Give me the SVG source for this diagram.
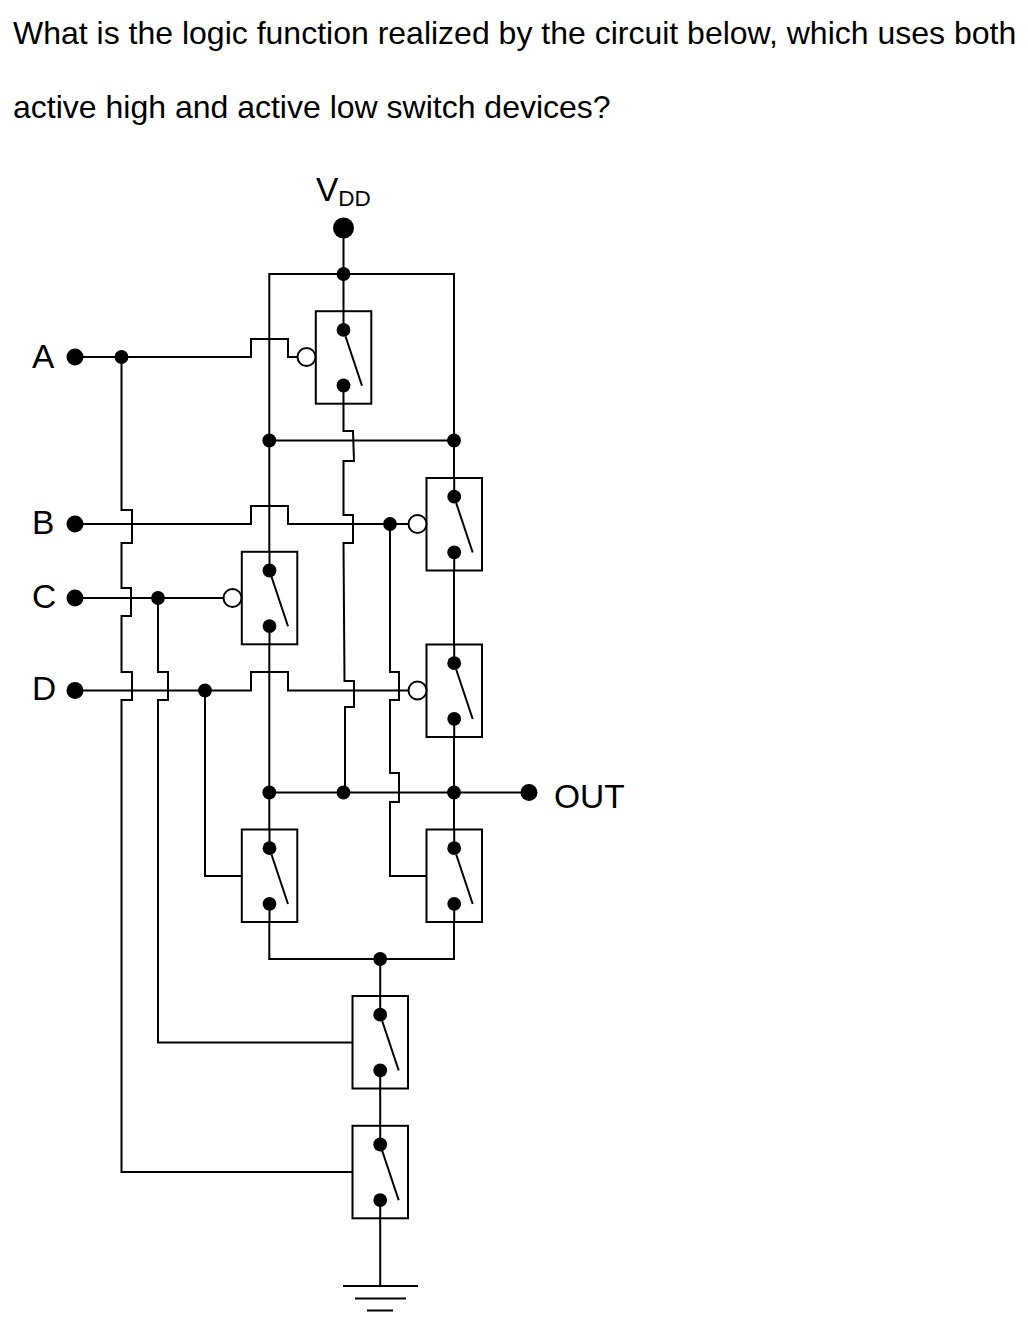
<svg xmlns="http://www.w3.org/2000/svg" width="1028" height="1341" viewBox="0 0 1028 1341">
<style>
text{font-family:"Liberation Sans",Arial,sans-serif;fill:#000}
.h{font-size:32px}
.l{font-size:33.500px}
.w{fill:none;stroke:#000;stroke-width:2;stroke-linejoin:miter}
.b{fill:none;stroke:#000;stroke-width:2}
.d{fill:#000}
.o{fill:#fff;stroke:#000;stroke-width:2}
</style>
<defs>
<g id="sw">
<rect class="b" x="-27.7" y="0" width="55.5" height="92.5"/>
<path class="b" d="M0 0V18.700M0 74.300V92.500"/>
<circle class="d" cx="0" cy="18.700" r="6.900"/>
<circle class="d" cx="0" cy="74.300" r="6.900"/>
<path class="b" d="M2 25L18.500 74.500"/>
</g>
</defs>
<rect width="1028" height="1341" fill="#fff"/>
<text class="h" x="13" y="44">What is the logic function realized by the circuit below, which uses both</text>
<text class="h" x="13" y="118">active high and active low switch devices?</text>
<text class="l" x="316" y="201">V<tspan font-size="22.500" dy="5">DD</tspan></text>
<text class="l" x="32" y="368">A</text>
<text class="l" x="32" y="534">B</text>
<text class="l" x="32" y="608">C</text>
<text class="l" x="32" y="700">D</text>
<text class="l" x="554" y="808">OUT</text>
<g id="connectors">
<path class="w" d="M343.500 228V311M343.500 404V431H353L354 461H343.500V515H353V543H343.500L344.500 681H354V707H345V792"/>
<path class="w" d="M269.300 552V274H454V478"/>
<path class="w" d="M269.300 644V830M269.300 922V959H454V922M454 570V645M454 737V830"/>
<path class="w" d="M269.300 440.500H454"/>
<path class="w" d="M269.300 792.500H529"/>
<path class="w" d="M75 357H251V339H288V357H297"/>
<path class="w" d="M75 524H251V506H288V524H408"/>
<path class="w" d="M75 598H223"/>
<path class="w" d="M75 690.500H251V672H288V690.500H408"/>
<path class="w" d="M121.500 357V510H132V543H121.500V588H131V616H121.500V672H132V700H121.500V1172H352.500"/>
<path class="w" d="M158 598V672H168V700H158V1042.500H352.500"/>
<path class="w" d="M205 690.500V876H242"/>
<path class="w" d="M390 524V672H399V700H390V773H399V802H390V876H426.500"/>
<path class="w" d="M380.200 959V996M380.200 1088.500V1126M380.200 1218.500V1286"/>
<path class="w" d="M343 1286H418M355 1298.500H406M367 1310.500H393"/>
</g>
<g id="junctions">
<circle class="d" cx="343.500" cy="228" r="10.500"/>
<circle class="d" cx="343.500" cy="274" r="6.900"/>
<circle class="d" cx="75" cy="357" r="8.500"/>
<circle class="d" cx="75" cy="524" r="8.500"/>
<circle class="d" cx="75" cy="598" r="8.500"/>
<circle class="d" cx="75" cy="690.500" r="8.500"/>
<circle class="d" cx="121.500" cy="357" r="6.900"/>
<circle class="d" cx="158" cy="598" r="6.900"/>
<circle class="d" cx="205" cy="690.500" r="6.900"/>
<circle class="d" cx="390" cy="524" r="6.900"/>
<circle class="d" cx="269.300" cy="440.500" r="6.900"/>
<circle class="d" cx="454" cy="440.500" r="6.900"/>
<circle class="d" cx="269.300" cy="792.500" r="6.900"/>
<circle class="d" cx="343.500" cy="792.500" r="6.900"/>
<circle class="d" cx="454" cy="792.500" r="6.900"/>
<circle class="d" cx="529" cy="792.500" r="8.500"/>
<circle class="d" cx="380.200" cy="959" r="6.900"/>
</g>
<g id="sw-a"><use href="#sw" x="343.500" y="311.200"/><circle class="o" cx="306.500" cy="357" r="9"/></g>
<g id="sw-b"><use href="#sw" x="454.200" y="478"/><circle class="o" cx="417.500" cy="524" r="9"/></g>
<g id="sw-c"><use href="#sw" x="269.500" y="551.800"/><circle class="o" cx="232.500" cy="598" r="9"/></g>
<g id="sw-d"><use href="#sw" x="454.200" y="644.500"/><circle class="o" cx="417.500" cy="690.500" r="9"/></g>
<g id="sw-d2"><use href="#sw" x="269.500" y="829.500"/></g>
<g id="sw-b2"><use href="#sw" x="454.200" y="829.500"/></g>
<g id="sw-c2"><use href="#sw" x="380.200" y="996"/></g>
<g id="sw-a2"><use href="#sw" x="380.200" y="1125.800"/></g>
</svg>
